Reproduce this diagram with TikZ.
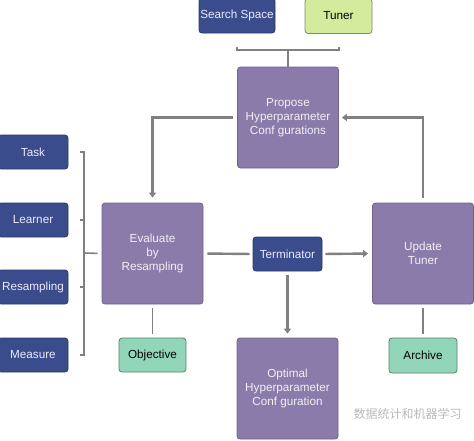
\documentclass[tikz,border=0pt]{standalone}
\usepackage{fontspec}
\setmainfont{Liberation Sans}
\newfontfamily\cjkfont{Noto Sans CJK SC}
\usepackage{xcolor}
\usepackage{tikz}
\usetikzlibrary{arrows.meta,positioning,calc}

\definecolor{boxblue}{RGB}{58,76,140}
\definecolor{boxpurple}{RGB}{139,123,170}
\definecolor{boxgreen}{RGB}{212,234,156}
\definecolor{boxmint}{RGB}{146,214,186}
\definecolor{linegray}{RGB}{128,128,128}

\begin{document}
\begin{tikzpicture}[x=1pt, y=-1pt,
    font=\fontsize{11.7}{14}\selectfont,
    base/.style={draw, rounded corners=3pt, align=center, line width=0.8pt, inner sep=0pt},
    inp/.style={base, fill=boxblue, draw=boxblue!75!black, text=white!92!blue, minimum width=70pt, minimum height=34pt},
    proc/.style={base, fill=boxpurple, draw=boxpurple!80!black, text=white!88!boxpurple, minimum width=101pt, minimum height=101pt},
    tun/.style={base, fill=boxgreen, draw=boxgreen!60!black, text=black, minimum width=67pt, minimum height=35pt},
    outp/.style={base, fill=boxmint, draw=boxmint!60!black, text=black, minimum width=67pt, minimum height=34pt},
    brk/.style={draw=linegray, line width=1.6pt},
    arrow/.style={-{Triangle[width=7pt,length=5pt]}, draw=linegray, line width=2.4pt},
    link/.style={draw=linegray, line width=2.4pt}]

    \useasboundingbox (0,0) rectangle (474,440);

    % top inputs
    \node[inp, minimum width=76pt, minimum height=35pt] (sspace) at (237,15.5) {Search Space};
    \node[tun] (tuner) at (338.5,16) {Tuner};

    % left inputs
    \node[inp] (task) at (33,152) {Task};
    \node[inp] (learner) at (33,220) {Learner};
    \node[inp] (resamp) at (33,287) {Resampling};
    \node[inp] (measure) at (33,355) {Measure};

    % main steps
    \node[proc] (propose) at (288,117.5) {Propose\\Hyperparameter\\Conf gurations};
    \node[proc] (evaluate) at (152.5,253.5) {Evaluate\\by\\Resampling};
    \node[proc] (update) at (423,253.5) {Update\\Tuner};
    \node[proc] (optimal) at (287.5,388.5) {Optimal\\Hyperparameter\\Conf guration};
    \node[inp, minimum width=69pt] (term) at (287.5,254) {Terminator};

    % outputs
    \node[outp] (objective) at (152.5,355) {Objective};
    \node[outp, minimum width=68pt, minimum height=35pt] (archive) at (423,355.5) {Archive};

    % brackets
    \coordinate (tbrk) at (288,50);
    \coordinate (lbrk) at (84,253);
    \draw[brk] (237,46.5) -- (237,50) -- (339,50) -- (339,46.5);
    \draw[brk] (tbrk) -- (propose.north);
    \draw[brk] (80,152) -- (84,152) -- (84,355) -- (80,355);
    \foreach \y in {220,287}
        \draw[brk] (80,\y) -- (84,\y);
    \draw[brk, shorten >=4pt] (lbrk) -- (evaluate.west);

    % flow
    \draw[arrow, shorten <=4pt, shorten >=5pt] (propose.west) -| (evaluate.north);
    \draw[arrow, shorten <=5pt, shorten >=3pt] (update.north) |- (propose.east);
    \draw[link, shorten <=4pt, shorten >=3pt] (evaluate.east) -- (term.west);
    \draw[arrow, shorten <=3pt, shorten >=4pt] (term.east) -- (update.west);
    \draw[arrow, shorten <=4pt, shorten >=4pt] (term.south) -- (optimal.north);
    \draw[brk, shorten <=4pt, shorten >=4pt] (evaluate.south) -- (objective.north);
    \draw[brk, shorten <=4pt, shorten >=4pt] (update.south) -- (archive.north);

    % watermark
    \node[text=gray!55, font=\cjkfont\fontsize{12}{14}\selectfont, anchor=west] (mark) at (350,414) {数据统计和机器学习};
\end{tikzpicture}
\end{document}
